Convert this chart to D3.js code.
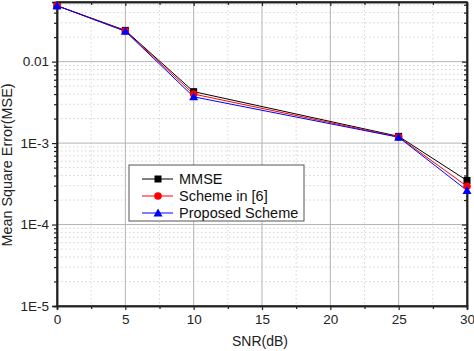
<!DOCTYPE html>
<html>
<head>
<meta charset="utf-8">
<script src="https://cdn.jsdelivr.net/npm/d3@7"></script>
<style>
  body { margin: 0; background: #fff; }
  svg { display: block; font-family: 'Liberation Sans', Arial, sans-serif; }
</style>
</head>
<body>
<div id="chart"></div>
<script>
const snr = [0, 5, 10, 25, 30]
const mmse = [0.0486, 0.0242, 0.00428, 0.00121, 0.000347]
const scheme6 = [0.0486, 0.0238, 0.0040, 0.00119, 0.000295]
const proposed = [0.0486, 0.0236, 0.0037, 0.00118, 0.000262]
const xTicks = [0, 5, 10, 15, 20, 25, 30]
const yTicks = [1e-5, 1e-4, 1e-3, 1e-2]
const yLabels = ['1E-5', '1E-4', '1E-3', '0.01']

const series = [
  { name: 'MMSE', val: mmse, color: '#000000', marker: 'square' },
  { name: 'Scheme in [6]', val: scheme6, color: '#ff0000', marker: 'circle' },
  { name: 'Proposed Scheme', val: proposed, color: '#0000ff', marker: 'triangle' }
]

const W = 474, H = 351
const m = { top: 2, right: 7, bottom: 45, left: 57 }
const w = W - m.left - m.right
const h = H - m.top - m.bottom

const svg = d3.select('#chart').append('svg').attr('width', W).attr('height', H)
const view = svg.append('g').attr('transform', `translate(${m.left},${m.top})`)

const x = d3.scaleLinear().domain([0, 30]).range([0, w])
const y = d3.scaleLog().domain([1e-5, 0.054]).range([h, 0])

// minor values
const minorY = []
for (let e = -5; e <= -2; e++) for (let k = 2; k <= 9; k++) {
  const v = k * Math.pow(10, e)
  if (v < 0.054) minorY.push(v)
}
const minorX = d3.range(2.5, 30, 5)

// grid
const grid = view.append('g')
grid.selectAll('.gy').data(minorY).join('line')
  .attr('x1', 0).attr('x2', w).attr('y1', d => y(d)).attr('y2', d => y(d))
  .attr('stroke', '#d4d4d4').attr('stroke-dasharray', '1.5,2.5').attr('stroke-width', 1)
grid.selectAll('.gx').data(minorX).join('line')
  .attr('y1', 0).attr('y2', h).attr('x1', d => x(d)).attr('x2', d => x(d))
  .attr('stroke', '#d4d4d4').attr('stroke-dasharray', '1.5,2.5').attr('stroke-width', 1)
grid.selectAll('.My').data(yTicks.slice(1)).join('line')
  .attr('x1', 0).attr('x2', w).attr('y1', d => y(d)).attr('y2', d => y(d))
  .attr('stroke', '#b4b4b4').attr('stroke-width', 1)
grid.selectAll('.Mx').data(xTicks.slice(1, -1)).join('line')
  .attr('y1', 0).attr('y2', h).attr('x1', d => x(d)).attr('x2', d => x(d))
  .attr('stroke', '#b4b4b4').attr('stroke-width', 1)

// axes
const fmtY = d => yLabels[yTicks.indexOf(d)]
view.append('g').attr('transform', `translate(0,${h})`)
  .call(d3.axisBottom(x).tickValues(xTicks).tickSize(4).tickPadding(4))
view.append('g').attr('transform', `translate(0,${h})`)
  .call(d3.axisBottom(x).tickValues(minorX).tickSize(3).tickFormat(''))
view.append('g').call(d3.axisTop(x).tickValues(xTicks).tickSizeInner(-4).tickSizeOuter(0).tickFormat(''))
view.append('g').call(d3.axisTop(x).tickValues(minorX).tickSizeInner(-3).tickSizeOuter(0).tickFormat(''))
view.append('g')
  .call(d3.axisLeft(y).tickValues(yTicks).tickFormat(fmtY).tickSize(5).tickPadding(3))
view.append('g').call(d3.axisLeft(y).tickValues(minorY).tickSize(3).tickFormat(''))
view.append('g').attr('transform', `translate(${w},0)`)
  .call(d3.axisRight(y).tickValues(yTicks).tickSizeInner(-5).tickSizeOuter(0).tickFormat(''))
view.append('g').attr('transform', `translate(${w},0)`)
  .call(d3.axisRight(y).tickValues(minorY).tickSizeInner(-3).tickSizeOuter(0).tickFormat(''))

view.selectAll('.domain').attr('stroke', '#222').attr('stroke-width', 1.5)
view.selectAll('.tick line').attr('stroke', '#222').attr('stroke-width', 1.2)
view.selectAll('.tick text').attr('font-size', 13.5).attr('fill', '#222')
  .attr('font-family', "'Liberation Sans', Arial, sans-serif")
view.append('rect').attr('width', w).attr('height', h)
  .attr('fill', 'none').attr('stroke', '#222').attr('stroke-width', 1.5)

// axis titles
svg.append('text').attr('x', 260).attr('y', 346).attr('text-anchor', 'middle')
  .attr('font-size', 14).attr('fill', '#222').text('SNR(dB)')
svg.append('text').attr('transform', 'translate(11.5,165) rotate(-90)')
  .attr('text-anchor', 'middle').attr('font-size', 14.4).attr('fill', '#222')
  .text('Mean Square Error(MSE)')

// lines and markers
const line = d3.line().x((d, i) => x(snr[i])).y(d => y(d))
const drawMarker = (g, type, color, cx, cy) => {
  if (type === 'square') {
    g.append('rect').attr('x', cx - 3.5).attr('y', cy - 3.5).attr('width', 7).attr('height', 7).attr('fill', color)
  } else if (type === 'circle') {
    g.append('circle').attr('cx', cx).attr('cy', cy).attr('r', 3.8).attr('fill', color)
  } else {
    g.append('path').attr('d', `M${cx},${cy - 4.5}L${cx + 4.5},${cy + 3.5}L${cx - 4.5},${cy + 3.5}Z`).attr('fill', color)
  }
}
series.forEach(s => {
  view.append('path').datum(s.val).attr('d', line)
    .attr('fill', 'none').attr('stroke', s.color).attr('stroke-width', 1)
})
series.forEach(s => {
  const g = view.append('g')
  s.val.forEach((v, i) => drawMarker(g, s.marker, s.color, x(snr[i]), y(v)))
})

// legend
const lg = svg.append('g').attr('transform', 'translate(129,165)')
lg.append('rect').attr('width', 175).attr('height', 56)
  .attr('fill', '#fff').attr('stroke', '#555').attr('stroke-width', 1)
series.forEach((s, i) => {
  const ly = 14 + i * 17
  lg.append('line').attr('x1', 13).attr('x2', 44).attr('y1', ly).attr('y2', ly)
    .attr('stroke', s.color).attr('stroke-width', 1)
  drawMarker(lg, s.marker, s.color, 29, ly)
  lg.append('text').attr('x', 50).attr('y', ly + 5).attr('font-size', 14.5).attr('fill', '#111').text(s.name)
})
</script>
</body>
</html>
